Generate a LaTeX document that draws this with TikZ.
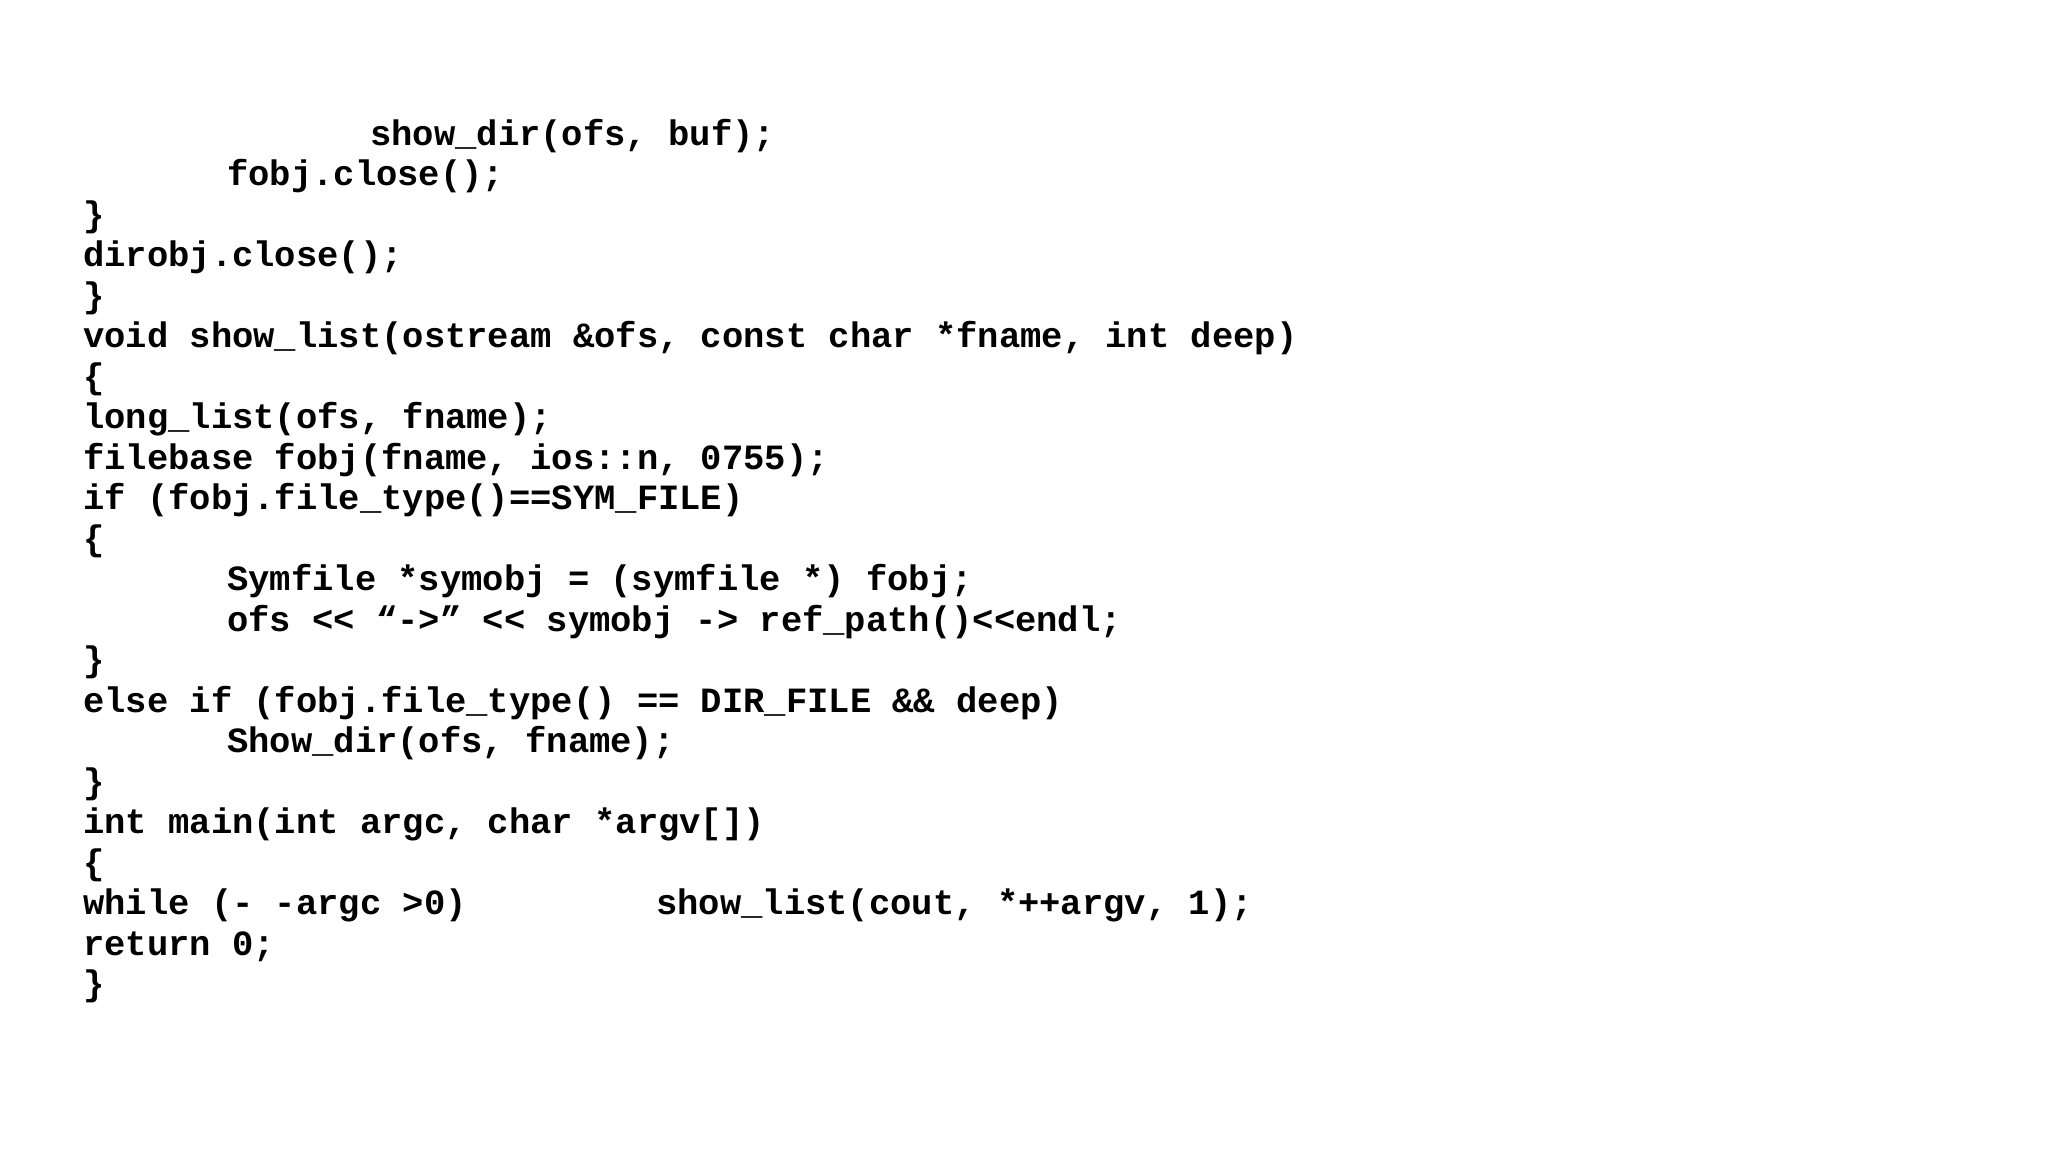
\documentclass[tikz,border=0pt]{standalone}
\usepackage{fontspec}
\setmonofont{Liberation Mono}
\begin{document}
\begin{tikzpicture}[x=1pt,y=-1pt,
  code/.style={anchor=base west,inner sep=0pt,font=\ttfamily\bfseries\fontsize{35.5}{40}\selectfont}]
\useasboundingbox[fill=white] (0,0) rectangle (2048,1152);
\def\L{83}\def\M{227}\def\H{370}
\def\b{145}\def\d{40.5}
\node[code] (l1) at (\H,\b+0*\d) {show\_dir(ofs, buf);};
\node[code] (l2) at (\M,\b+1*\d) {fobj.close();};
\node[code] (l3) at (\L,\b+2*\d) {\}};
\node[code] (l4) at (\L,\b+3*\d) {dirobj.close();};
\node[code] (l5) at (\L,\b+4*\d) {\}};
\node[code] (l6) at (\L,\b+5*\d) {void show\_list(ostream \&ofs, const char *fname, int deep)};
\node[code] (l7) at (\L,\b+6*\d) {\{};
\node[code] (l8) at (\L,\b+7*\d) {long\_list(ofs, fname);};
\node[code] (l9) at (\L,\b+8*\d) {filebase fobj(fname, ios::n, 0755);};
\node[code] (l10) at (\L,\b+9*\d) {if (fobj.file\_type()==SYM\_FILE)};
\node[code] (l11) at (\L,\b+10*\d) {\{};
\node[code] (l12) at (\M,\b+11*\d) {Symfile *symobj = (symfile *) fobj;};
\node[code] (l13) at (\M,\b+12*\d) {ofs << “->” << symobj -> ref\_path()<<endl;};
\node[code] (l14) at (\L,\b+13*\d) {\}};
\node[code] (l15) at (\L,\b+14*\d) {else if (fobj.file\_type() == DIR\_FILE \&\& deep)};
\node[code] (l16) at (\M,\b+15*\d) {Show\_dir(ofs, fname);};
\node[code] (l17) at (\L,\b+16*\d) {\}};
\node[code] (l18) at (\L,\b+17*\d) {int main(int argc, char *argv[])};
\node[code] (l19) at (\L,\b+18*\d) {\{};
\node[code] (l20) at (\L,\b+19*\d) {while (- -argc >0)};
\node[code] (l20b) at (656,\b+19*\d) {show\_list(cout, *++argv, 1);};
\node[code] (l21) at (\L,\b+20*\d) {return 0;};
\node[code] (l22) at (\L,\b+21*\d) {\}};
\end{tikzpicture}
\end{document}
